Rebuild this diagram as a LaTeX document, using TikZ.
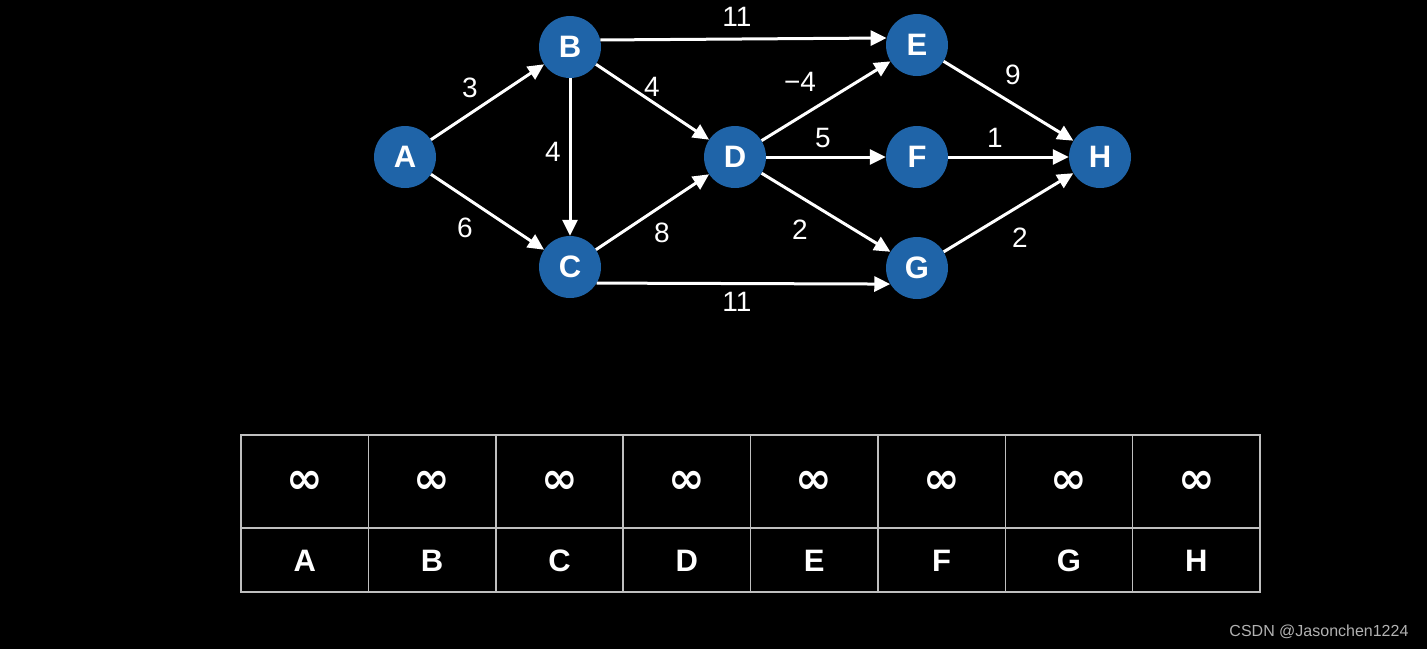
\documentclass[tikz,border=0pt]{standalone}
\usepackage{fontspec}
\setmainfont{Liberation Sans}
\newfontfamily\dejavu{DejaVu Sans}
\usetikzlibrary{arrows.meta}
\definecolor{nodeblue}{HTML}{1F64A8}
\begin{document}
\begin{tikzpicture}[x=1pt,y=-1pt,
  vert/.style={circle,fill=nodeblue,minimum size=62pt,inner sep=0pt,text=white,font=\fontsize{31}{31}\selectfont\bfseries},
  edge/.style={draw=white,line width=3pt,-{Triangle[length=16pt,width=15pt]}},
  wlab/.style={text=white,font=\fontsize{28}{28}\selectfont},
  cell/.style={text=white,font=\fontsize{31}{31}\selectfont\bfseries},
  inf/.style={text=white,font=\dejavu\fontsize{44}{44}\selectfont\bfseries}]
\fill[black] (0,0) rectangle (1427,649);
\useasboundingbox (0,0) rectangle (1427,649);
\node[vert] (A) at (405,157) {A};
\node[vert] (B) at (570,47) {B};
\node[vert] (C) at (570,267) {C};
\node[vert] (D) at (735,157) {D};
\node[vert] (E) at (917,45) {E};
\node[vert] (F) at (917,157) {F};
\node[vert] (G) at (917,268) {G};
\node[vert] (H) at (1100,157) {H};
\draw[edge] (A) -- (B);
\draw[edge] (A) -- (C);
\draw[edge] (B.13) -- (E.167);
\draw[edge] (B) -- (D);
\draw[edge] (B) -- (C);
\draw[edge] (C) -- (D);
\draw[edge] (C.-31) -- (G.-149);
\draw[edge] (D) -- (E);
\draw[edge] (D) -- (F);
\draw[edge] (D) -- (G);
\draw[edge] (E) -- (H);
\draw[edge] (F) -- (H);
\draw[edge] (G) -- (H);
\node[wlab] (l1) at (737,17) {11};
\node[wlab] (l2) at (470,88) {3};
\node[wlab] (l3) at (652,87) {4};
\node[wlab] (l4) at (553,152) {4};
\node[wlab] (l5) at (465,228) {6};
\node[wlab] (l6) at (662,233) {8};
\node[wlab] (l7) at (737,302) {11};
\node[wlab] (l8) at (800,82) {−4};
\node[wlab] (l9) at (823,138) {5};
\node[wlab] (l10) at (800,230) {2};
\node[wlab] (l11) at (1013,75) {9};
\node[wlab] (l12) at (995,138) {1};
\node[wlab] (l13) at (1020,238) {2};
\draw[white!75!black,line width=1.5pt] (241,435) rectangle (1260,592);
\draw[white!75!black,line width=1.5pt] (241,528) -- (1260,528);
\foreach \i in {1,...,7} \draw[white!75!black,line width=1.5pt] (241+127.375*\i,435) -- (241+127.375*\i,592);
\foreach \l [count=\i from 0] in {A,B,C,D,E,F,G,H} {
  \node[inf] (i\l) at (304.7+127.375*\i,482) {∞};
  \node[cell] (t\l) at (304.7+127.375*\i,561) {\l};
}
\node[text=white!70!black,font=\fontsize{16}{16}\selectfont,anchor=east] (wm) at (1412,632) {CSDN @Jasonchen1224};
\end{tikzpicture}
\end{document}
